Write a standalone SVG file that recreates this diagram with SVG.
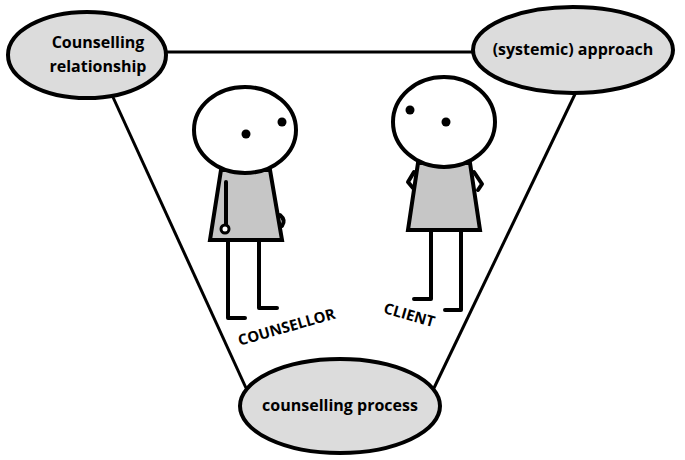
<svg xmlns="http://www.w3.org/2000/svg" width="685" height="460" viewBox="0 0 685 460">
<style>
.n{fill:#dcdcdc;stroke:#000;stroke-width:4}
.l{stroke:#000;stroke-width:3;fill:none}
.t{font-family:"Open Sans","DejaVu Sans",sans-serif;font-weight:bold;font-size:16px;text-anchor:middle}
.f{stroke:#000;stroke-width:4;fill:none;stroke-linecap:round;stroke-linejoin:round}
.b{fill:#c6c6c6;stroke:#000;stroke-width:4}
.h{fill:#fff;stroke:#000;stroke-width:4}
</style>
<rect width="685" height="460" fill="#fff"/>
<g id="connectors">
<line class="l" x1="165" y1="52" x2="475" y2="52"/>
<line class="l" x1="112" y1="95" x2="246" y2="388"/>
<line class="l" x1="576" y1="92" x2="434" y2="388"/>
</g>
<g id="relationship"><ellipse class="n" cx="87" cy="55" rx="79" ry="43"/><text class="t" x="98" y="48">Counselling</text><text class="t" x="98" y="72">relationship</text></g>
<g id="approach"><ellipse class="n" cx="573" cy="50" rx="100" ry="43"/><text class="t" x="573" y="55">(systemic) approach</text></g>
<g id="process"><ellipse class="n" cx="340" cy="406" rx="100" ry="47"/><text class="t" x="340" y="411">counselling process</text></g>
<g id="counsellor">
<path class="f" d="M228 238V318H245M259 238V308H277"/>
<path class="b" d="M221 170H270L282 240H210Z"/>
<path class="f" d="M226 182V225"/><circle cx="225" cy="229" r="4" fill="#fff" stroke="#000" stroke-width="3"/>
<path class="f" d="M280 215Q286 220 282 226"/>
<ellipse class="h" cx="245" cy="130" rx="51" ry="43"/>
<circle cx="246" cy="134" r="4.5"/><circle cx="282" cy="122" r="4.5"/>
<text class="t" x="288" y="332" transform="rotate(-16 288 332)" font-size="15" style="font-size:15px">COUNSELLOR</text>
</g>
<g id="client">
<path class="f" d="M431 228V299H414M461 228V310H445"/>
<path class="f" d="M414 172L408 182L413 188M474 172L482 184L478 190"/>
<path class="b" d="M418 163H470L480 230H408Z"/>
<ellipse class="h" cx="444" cy="122" rx="51" ry="45"/>
<circle cx="410" cy="110" r="4.5"/><circle cx="446" cy="122" r="4.5"/>
<text class="t" x="408" y="320" transform="rotate(16 408 320)" style="font-size:15px">CLIENT</text>
</g>
</svg>
